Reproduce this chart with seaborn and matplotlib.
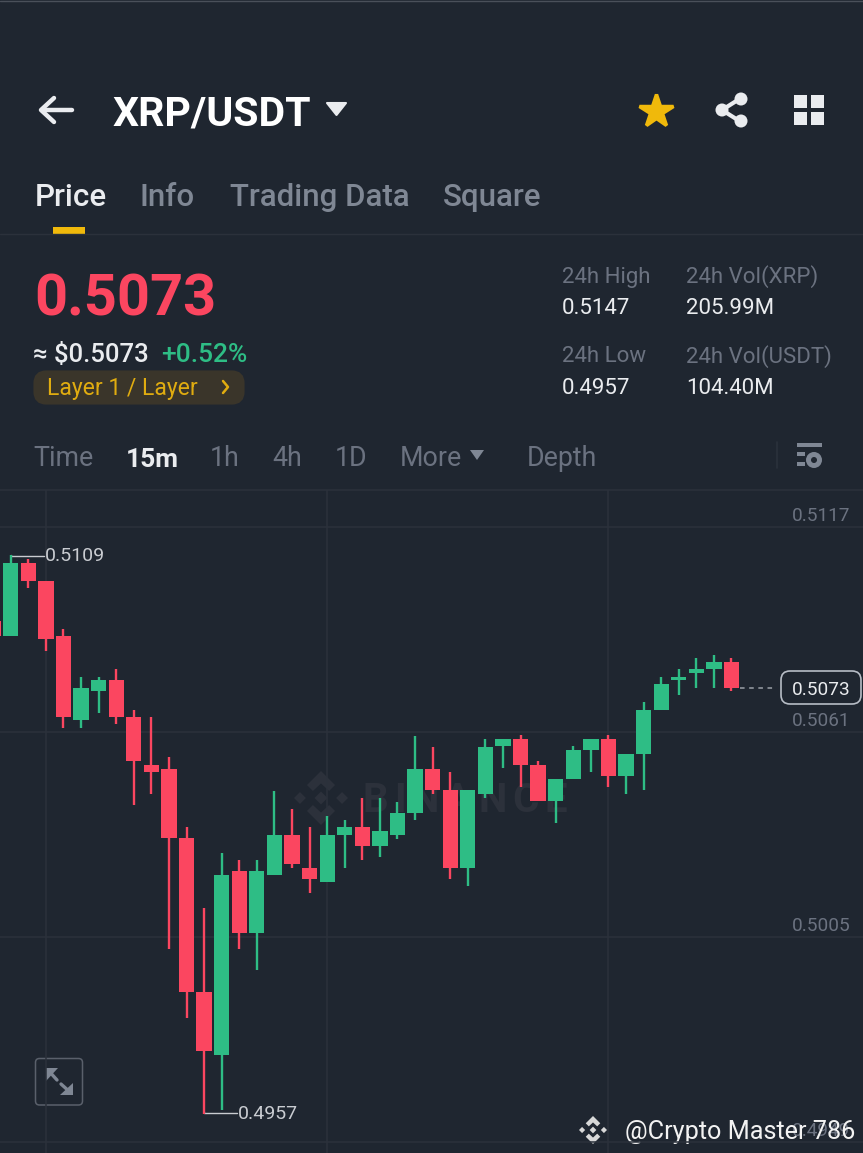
import matplotlib
matplotlib.use("Agg")
import matplotlib.pyplot as plt
import numpy as np
import pandas as pd
import seaborn as sns
from matplotlib.patches import Circle, FancyBboxPatch, Polygon, Rectangle

BG = "#1f2630"
GRID = "#2b313b"
GREEN = "#2ebd85"
RED = "#fb4660"
YELLOW = "#f0b90b"
GRAY = "#7f8794"
DIM = "#6b7280"
WHITE = "#eaecef"
MARK = "#2c313b"

# candles, oldest first
opens = [0.50913, 0.50872, 0.51073, 0.51023, 0.50872, 0.50642, 0.50722, 0.50751, 0.50651, 0.50520, 0.50510, 0.50320,
         0.49899, 0.49728, 0.50229, 0.50060, 0.50219, 0.50329, 0.50239, 0.50199, 0.50329, 0.50350, 0.50299, 0.50329,
         0.50390, 0.50510, 0.50451, 0.50239, 0.50441, 0.50571, 0.50591, 0.50521, 0.50421, 0.50481, 0.50561, 0.50591,
         0.50491, 0.50551, 0.50671, 0.50751, 0.50771, 0.50781, 0.50801]
closes = [0.50872, 0.51073, 0.51023, 0.50863, 0.50652, 0.50731, 0.50751, 0.50652, 0.50531, 0.50500, 0.50320, 0.49899,
          0.49738, 0.50219, 0.50060, 0.50229, 0.50329, 0.50249, 0.50209, 0.50329, 0.50350, 0.50299, 0.50340, 0.50390,
          0.50510, 0.50451, 0.50239, 0.50451, 0.50570, 0.50591, 0.50521, 0.50421, 0.50481, 0.50561, 0.50591, 0.50491,
          0.50551, 0.50671, 0.50741, 0.50761, 0.50781, 0.50801, 0.50731]
highs = [0.50913, 0.51094, 0.51083, 0.51023, 0.50892, 0.50761, 0.50761, 0.50781, 0.50671, 0.50651, 0.50541, 0.50350,
         0.50128, 0.50279, 0.50260, 0.50260, 0.50450, 0.50400, 0.50350, 0.50380, 0.50370, 0.50430, 0.50430, 0.50420,
         0.50600, 0.50570, 0.50500, 0.50451, 0.50591, 0.50591, 0.50601, 0.50531, 0.50481, 0.50571, 0.50591, 0.50601,
         0.50551, 0.50691, 0.50761, 0.50781, 0.50811, 0.50821, 0.50811]
lows = [0.50872, 0.50872, 0.51003, 0.50832, 0.50620, 0.50621, 0.50662, 0.50631, 0.50411, 0.50441, 0.50018, 0.49828,
        0.49567, 0.49577, 0.50018, 0.49959, 0.50219, 0.50239, 0.50169, 0.50199, 0.50239, 0.50260, 0.50269, 0.50319,
        0.50370, 0.50441, 0.50209, 0.50189, 0.50431, 0.50511, 0.50461, 0.50421, 0.50361, 0.50481, 0.50501, 0.50461,
        0.50441, 0.50451, 0.50671, 0.50711, 0.50731, 0.50731, 0.50721]
positions = list(range(-1, 42))

axis_prices = [0.5117, 0.5061, 0.5005, 0.4949]
time_ticks = [2, 18, 34]
last_price = 0.5073
high_mark = 0.5109
low_mark = 0.4957

tabs = [("Price", 35, WHITE), ("Info", 139, GRAY), ("Trading Data", 230, GRAY), ("Square", 443, GRAY)]
intervals = [("Time", 33), ("1h", 210), ("4h", 272), ("1D", 335), ("More", 400), ("Depth", 527)]
stats = [("24h High", "0.5147", 562, 277), ("24h Vol(XRP)", "205.99M", 686, 277),
         ("24h Low", "0.4957", 562, 357), ("24h Vol(USDT)", "104.40M", 686, 357)]
mark_letters = [("B", 362), ("I", 394), ("N", 410), ("A", 444), ("N", 478), ("C", 512), ("E", 544)]

sns.set_theme(style="dark", rc={"axes.facecolor": BG, "figure.facecolor": BG})
plt.rcParams["font.family"] = ["Roboto", "Noto Sans", "DejaVu Sans"]

fig = plt.figure(figsize=(8.63, 11.53), dpi=100)

# whole-picture layer in pixel coordinates for the app chrome
ui = fig.add_axes([0, 0, 1, 1], zorder=0)
ui.set_xlim(0, 863)
ui.set_ylim(1153, 0)
ui.axis("off")


def logo(cx, cy, r, color):
    for sign in (-1, 1):
        pts = [(-0.52, -0.48), (0, -1), (0.52, -0.48), (0.3, -0.26), (0, -0.54), (-0.3, -0.26)]
        ui.add_patch(Polygon([(cx + a * r, cy + sign * b * r) for a, b in pts], color=color, lw=0))
    for dx, size in ((-0.78, 0.22), (0, 0.24), (0.78, 0.22)):
        pts = [(dx - size, 0), (dx, -size), (dx + size, 0), (dx, size)]
        ui.add_patch(Polygon([(cx + a * r, cy + b * r) for a, b in pts], color=color, lw=0))


ui.plot([0, 863], [0.5, 0.5], color="#4a505a", lw=1)
ui.plot([0, 863], [234, 234], color=GRID, lw=1)

# header
ui.plot([42, 72], [110, 110], color=WHITE, lw=3.2)
ui.plot([54, 41, 54], [98, 110, 122], color=WHITE, lw=3.2)
ui.text(113, 115, "XRP/USDT", color="white", fontsize=29.5, fontweight="bold", va="center")
ui.add_patch(Polygon([(327, 103), (346, 103), (336.5, 115)], color=WHITE, ec=WHITE, lw=1.5, joinstyle="round"))
ui.plot(656, 111, marker="*", color=YELLOW, markersize=25, markeredgewidth=2.5, markeredgecolor=YELLOW)
ui.plot([741, 722, 741], [98, 110, 122], color=WHITE, lw=3)
for cx, cy in ((741, 99), (722, 110), (741, 121)):
    ui.add_patch(Circle((cx, cy), 6.5, color=WHITE, lw=0))
for x0, y0 in ((794, 95), (811, 95), (794, 112), (811, 112)):
    ui.add_patch(Rectangle((x0, y0), 12.5, 13, color=WHITE, lw=0))

for label, x, color in tabs:
    ui.text(x, 197, label, color=color, fontsize=22.5, fontweight="medium", va="center")
ui.add_patch(Rectangle((53, 227), 32, 6.5, color=YELLOW, lw=0))

# price block
ui.text(34, 300, "0.5073", color=RED, fontsize=41.5, fontweight="bold", va="center")
ui.text(33, 355, "≈ $0.5073", color=WHITE, fontsize=18.5, fontweight="medium", va="center")
ui.text(161, 355, "+0.52%", color=GREEN, fontsize=19, fontweight="medium", va="center")
ui.add_patch(FancyBboxPatch((39, 376), 200, 23, boxstyle="round,pad=0,rounding_size=7", mutation_aspect=1,
                            fc="#3a352a", ec="#3a352a", lw=8))
ui.text(47, 389, "Layer 1 / Layer", color="#e0ac10", fontsize=16.5, va="center")
ui.plot([223, 228, 223], [381, 387, 393], color="#e0ac10", lw=1.8)

for name, value, x, y in stats:
    ui.text(x, y, name, color=DIM, fontsize=16, va="center")
    ui.text(x, y + 31, value, color=WHITE, fontsize=16, va="center")

# interval bar
for label, x in intervals:
    ui.text(x, 459, label, color=DIM, fontsize=19.3, va="center")
ui.text(126, 460, "15m", color=WHITE, fontsize=19, fontweight="bold", va="center")
ui.add_patch(Polygon([(470, 450), (484, 450), (477, 460)], color=GRAY, lw=0))
ui.plot([777, 777], [442, 468], color=GRID, lw=1.2)
ui.add_patch(Rectangle((797, 443), 25, 4, color=GRAY, lw=0))
ui.add_patch(Rectangle((797, 452), 8, 4, color=GRAY, lw=0))
ui.add_patch(Rectangle((797, 462), 8, 4, color=GRAY, lw=0))
ui.add_patch(Circle((814, 460), 8, color=GRAY, lw=0))
ui.add_patch(Circle((814, 460), 3, color=BG, lw=0))

logo(321, 798, 27, MARK)
for letter, x in mark_letters:
    ui.text(x, 801, letter, color=MARK, fontsize=29, fontweight="bold", va="center")

# chart, limits picked so the price grid falls where the picture has it
chart = fig.add_axes([0, 0, 1, 663 / 1153], zorder=1)
chart.patch.set_alpha(0)

df = pd.DataFrame({"pos": positions, "open": opens, "close": closes, "high": highs, "low": lows})
df["body"] = (df["close"] - df["open"]).abs()
df["base"] = df[["open", "close"]].min(axis=1)
df["side"] = np.where(df["close"] >= df["open"], "up", "down")
palette = {"up": GREEN, "down": RED}

for side, part in df.groupby("side"):
    chart.vlines(part["pos"], part["low"], part["high"], color=palette[side], lw=1.7, zorder=3)
    sns.barplot(data=part, x="pos", y="body", color=palette[side], native_scale=True, width=0.87,
                bottom=part["base"].to_numpy(), errorbar=None, saturation=1, linewidth=0, ax=chart, zorder=4)

chart.set_xlim(-0.609, 48.48)
chart.set_ylim(0.494598, 0.512711)
chart.set_xticks(time_ticks)
chart.set_yticks(axis_prices)
chart.set_xticklabels([])
chart.set_yticklabels([])
chart.set_xlabel("")
chart.set_ylabel("")
chart.grid(True, color=GRID, lw=1.1)
chart.set_axisbelow(True)
chart.tick_params(length=0)
sns.despine(ax=chart, left=True, right=True, bottom=True, top=False)
chart.spines["top"].set_color(GRID)
chart.spines["top"].set_linewidth(1.1)

chart.plot([0, 0, 1.9], [0.51094, high_mark + 0.00001, high_mark + 0.00001], color="#c9ccd1", lw=1, zorder=2)
chart.text(1.92, high_mark, f"{high_mark:.4f}", color="#c9ccd1", fontsize=14, va="center")
chart.plot([11, 11, 12.9], [low_mark + 0.00001, low_mark - 0.00001, low_mark - 0.00001], color="#c9ccd1", lw=1, zorder=2)
chart.text(12.92, low_mark - 0.00004, f"{low_mark:.4f}", color="#c9ccd1", fontsize=14, va="center")
chart.plot([41.5, 43.4], [last_price, last_price], color="#9aa0a8", lw=1.1, ls=(0, (3, 3)))

for price in axis_prices:
    ui.text(792, 732 - (price - 0.5061) * 36607 - 11, f"{price:.4f}", color=DIM, fontsize=13.7, va="center", zorder=5)
ui.add_patch(FancyBboxPatch((781, 671), 80, 33, boxstyle="round,pad=0,rounding_size=9", fc=BG, ec="#b7bdc6", lw=1.2, zorder=3))
ui.text(792, 690, f"{last_price:.4f}", color=WHITE, fontsize=13.7, va="center", zorder=6)

# expand button
ui.add_patch(FancyBboxPatch((35.5, 1058.5), 47, 46.5, boxstyle="round,pad=0,rounding_size=4", fc=BG, ec="#5a606b", lw=1.1, zorder=3))
ui.plot([48, 57], [1070, 1080], color=GRAY, lw=2.4, zorder=4)
ui.plot([61, 71], [1084, 1093], color=GRAY, lw=2.4, zorder=4)
ui.add_patch(Polygon([(46, 1068), (58, 1068), (46, 1081)], color=GRAY, lw=0, zorder=4))
ui.add_patch(Polygon([(73, 1095), (60, 1095), (73, 1083)], color=GRAY, lw=0, zorder=4))

# watermark sits over everything
logo(593, 1130, 14, "#d8d8d8")
ui.text(625, 1132, "@Crypto Master 786", color="#f2f2f2", fontsize=18.2, va="center", zorder=7)

fig.savefig("out.png", dpi=100, facecolor=BG)
